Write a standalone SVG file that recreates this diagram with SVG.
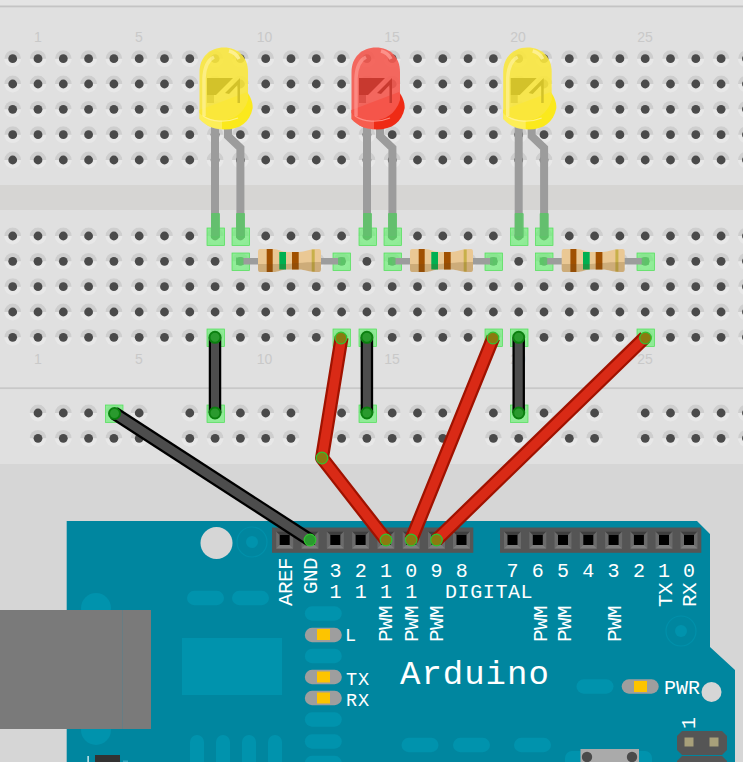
<svg xmlns="http://www.w3.org/2000/svg" xmlns:xlink="http://www.w3.org/1999/xlink" width="743" height="762" viewBox="0 0 743 762">
<style>
.num{font:14px "Liberation Sans",Arial,sans-serif;fill:#c9c9c9;text-anchor:middle}
.t{font-family:"Liberation Mono","DejaVu Sans Mono",monospace;fill:#fff}
.m{font-size:20px}
.s{font-size:18.5px;letter-spacing:.8px}
.v{font-size:21px;letter-spacing:-.6px}
.blob{fill:#0093ad}
.pad{fill:#6fee78;fill-opacity:.72;stroke:#4be055;stroke-width:.7}
.stub{fill:#5cc468;fill-opacity:.88}
.lg{fill:none;stroke:#9c9c9c;stroke-width:8}
.bk{fill:none;stroke:#000;stroke-width:12.5}
.bki{fill:none;stroke:#4d4d4d;stroke-width:8}
.rd{fill:none;stroke:#a01200;stroke-width:14}
.rdi{fill:none;stroke:#d92a16;stroke-width:9.5}
.eg{fill:#2a9a2e;stroke:#0b800f;stroke-width:2}
.er{fill:#8a7a10;stroke:#2fc42f;stroke-width:1.2}
.y{--f:#fbe91c;--b:#f9e73e;--d:#d3c22a;--h:#fff3a0}
.r{--f:#ef2b15;--b:#f55a50;--d:#c8392f;--h:#ff9c95}
</style>
<defs>
<g id="h"><circle r="8.4" fill="#e8e8e8"/><path d="M-8.4,0A8.4,8.4 0 0 1 8.4,0Z" fill="#cecece"/><circle r="4.4" fill="#4a4a4a"/></g>
<g id="row">
<use xlink:href="#h" x="12.7"/><use xlink:href="#h" x="38"/><use xlink:href="#h" x="63.3"/><use xlink:href="#h" x="88.6"/><use xlink:href="#h" x="113.9"/><use xlink:href="#h" x="139.2"/><use xlink:href="#h" x="164.5"/><use xlink:href="#h" x="189.8"/><use xlink:href="#h" x="215.1"/><use xlink:href="#h" x="240.4"/><use xlink:href="#h" x="265.7"/><use xlink:href="#h" x="291"/><use xlink:href="#h" x="316.3"/><use xlink:href="#h" x="341.6"/><use xlink:href="#h" x="366.9"/><use xlink:href="#h" x="392.2"/><use xlink:href="#h" x="417.5"/><use xlink:href="#h" x="442.8"/><use xlink:href="#h" x="468.1"/><use xlink:href="#h" x="493.4"/><use xlink:href="#h" x="518.7"/><use xlink:href="#h" x="544"/><use xlink:href="#h" x="569.3"/><use xlink:href="#h" x="594.6"/><use xlink:href="#h" x="619.9"/><use xlink:href="#h" x="645.2"/><use xlink:href="#h" x="670.5"/><use xlink:href="#h" x="695.8"/><use xlink:href="#h" x="721.1"/><use xlink:href="#h" x="746.4"/>
</g>
<g id="rail">
<use xlink:href="#h" x="38"/><use xlink:href="#h" x="63.3"/><use xlink:href="#h" x="88.6"/><use xlink:href="#h" x="113.9"/><use xlink:href="#h" x="139.2"/><use xlink:href="#h" x="189.8"/><use xlink:href="#h" x="215.1"/><use xlink:href="#h" x="240.4"/><use xlink:href="#h" x="265.7"/><use xlink:href="#h" x="291"/><use xlink:href="#h" x="341.6"/><use xlink:href="#h" x="366.9"/><use xlink:href="#h" x="392.2"/><use xlink:href="#h" x="417.5"/><use xlink:href="#h" x="442.8"/><use xlink:href="#h" x="493.4"/><use xlink:href="#h" x="518.7"/><use xlink:href="#h" x="544"/><use xlink:href="#h" x="569.3"/><use xlink:href="#h" x="594.6"/><use xlink:href="#h" x="645.2"/><use xlink:href="#h" x="670.5"/><use xlink:href="#h" x="695.8"/><use xlink:href="#h" x="721.1"/><use xlink:href="#h" x="746.4"/>
</g>
<g id="pin">
<rect x="-8.5" y="-8.5" width="17" height="17" fill="#6b6b6b"/>
<path d="M-8.5,-8.5H8.5L5,-5H-5Z" fill="#3f3f3f"/>
<path d="M-8.5,8.5H8.5L5,5H-5Z" fill="#7d7d7d"/>
<rect x="-5" y="-5" width="10" height="10" fill="#000"/>
</g>
<g id="pil"><rect x="-18.5" y="-7.2" width="37" height="14.4" rx="7.2"/></g>
<g id="led">
<path d="M199.5,110V119C206,126 214,129.500 225,129.500C240,129.500 250,122 252.700,108C252.700,101 250,96 247,92Z" style="fill:var(--f)"/>
<path d="M199.5,113V72C199.5,57 210,47.500 224,47.500C238,47.500 248,57 248,72V100C244,114 232,120.500 222,120.500C212,120.500 204,118 199.5,113Z" style="fill:var(--b)" fill-opacity=".9"/>
<path d="M199.5,113C204,118 212,120.500 222,120.500L222,129.500C212,129 205,125 199.5,119Z" style="fill:var(--h)" fill-opacity=".45"/>
<path d="M207,78H233L216,95H207Z" style="fill:var(--d)"/>
<path d="M207,95H214V103H207Z" style="fill:var(--d)" fill-opacity=".5"/>
<path d="M225,93L240,78V103H237.5V85L229,94Z" style="fill:var(--d)"/>
<path d="M214,57C208,60 204.500,68 204,78V116" fill="none" style="stroke:var(--h)" stroke-opacity=".65" stroke-width="3.500"/>
<path d="M229,51C233,52 237,55 239,59" fill="none" style="stroke:var(--h)" stroke-opacity=".8" stroke-width="3.500"/>
<path d="M203,116C212,122 226,123 238,118" fill="none" style="stroke:var(--h)" stroke-opacity=".8" stroke-width="1.300"/>
</g>
<g id="res">
<rect x="240" y="258" width="101" height="6.500" fill="#9c9c9c"/>
<path d="M260,249H273C279,249 281,252 287,252H299C305,252 309,249 316,249H319Q321,249 321,252V269Q321,272 319,272H316C309,272 305,269.500 299,269.500H287C281,269.500 279,272 273,272H260Q258,272 258,269V252Q258,249 260,249Z" fill="#eac894"/>
<rect x="266.700" y="249" width="6" height="23" fill="#a05000"/>
<rect x="279.300" y="252" width="6.700" height="17.500" fill="#00b050"/>
<rect x="292" y="252" width="6.700" height="17.500" fill="#a05000"/>
<rect x="311.700" y="249.500" width="3" height="22" fill="#c8b04a"/>
<path d="M258,264H287C295,263 309,262 321,262V269Q321,272 319,272H316C309,272 305,269.500 299,269.500H287C281,269.500 279,272 273,272H260Q258,272 258,269Z" fill="#6b4a1a" fill-opacity=".22"/>
</g>
</defs>

<g id="background">
<rect width="743" height="762" fill="#d6d6d6"/>
</g>

<g id="breadboard">
<rect width="743" height="464" fill="#e0e0e0"/>
<rect width="743" height="6" fill="#e4e4e4"/>
<rect y="5.500" width="743" height="1.800" fill="#c4c4c4"/>
<rect y="185" width="743" height="25" fill="#d6d5d3"/>
<rect y="387.300" width="743" height="1.800" fill="#c8c8c8"/>
<g>
<use xlink:href="#row" y="58.700"/><use xlink:href="#row" y="84"/><use xlink:href="#row" y="109.300"/><use xlink:href="#row" y="134.700"/><use xlink:href="#row" y="160"/>
<use xlink:href="#row" y="236"/><use xlink:href="#row" y="261.300"/><use xlink:href="#row" y="286.700"/><use xlink:href="#row" y="312"/><use xlink:href="#row" y="337.300"/>
<use xlink:href="#rail" y="413"/><use xlink:href="#rail" y="438.300"/>
</g>
<g>
<text class="num" x="38" y="42">1</text><text class="num" x="139" y="42">5</text><text class="num" x="264.500" y="42">10</text><text class="num" x="392" y="42">15</text><text class="num" x="518" y="42">20</text><text class="num" x="645" y="42">25</text>
<text class="num" x="38" y="364">1</text><text class="num" x="139" y="364">5</text><text class="num" x="264.500" y="364">10</text><text class="num" x="392" y="364">15</text><text class="num" x="518" y="364">20</text><text class="num" x="645" y="364">25</text>
</g>
</g>

<g id="arduino">
<path d="M66.700,521H697L710,534V647L735,670V762H66.700Z" fill="#00869f"/>
<circle cx="216.500" cy="543" r="16" fill="#d6d6d6"/>
<circle cx="252" cy="542" r="15" fill="none" stroke="#0090aa" stroke-width="1.200"/><circle cx="252" cy="542" r="6" fill="#0093ad"/>
<circle cx="681" cy="631" r="15" fill="none" stroke="#0090aa" stroke-width="1.200"/><circle cx="681" cy="631" r="6" fill="#0093ad"/>
<circle cx="711.500" cy="692" r="10" fill="#d6d6d6"/>
<circle cx="96" cy="608" r="15" class="blob"/><circle cx="96" cy="730" r="15" class="blob"/>
<rect x="182" y="638" width="100" height="57" class="blob"/>
<g class="blob">
<use xlink:href="#pil" x="205.500" y="598"/><use xlink:href="#pil" x="250.500" y="598"/>
<use xlink:href="#pil" x="323.300" y="613.500"/><use xlink:href="#pil" x="323.300" y="656"/><use xlink:href="#pil" x="323.300" y="719.500"/><use xlink:href="#pil" x="323.300" y="741.500"/><use xlink:href="#pil" x="323.300" y="763"/>
<use xlink:href="#pil" x="420" y="745"/><use xlink:href="#pil" x="471.500" y="745"/><use xlink:href="#pil" x="532.500" y="745"/>
<use xlink:href="#pil" x="595" y="686.500"/>
<rect x="190" y="735" width="14" height="40" rx="7"/><rect x="216" y="735" width="14" height="40" rx="7"/><rect x="242" y="735" width="14" height="40" rx="7"/><rect x="268" y="735" width="14" height="40" rx="7"/>
<rect x="565" y="751" width="87" height="20" rx="7"/>
</g>
<g id="usb"><rect y="610" width="151" height="119" fill="#7a7a7a"/><rect x="122" y="610" width=".7" height="119" fill="#5f7f88"/></g>
<g id="headers">
<rect x="272" y="527.500" width="201.300" height="25.300" fill="#555"/>
<rect x="500" y="527.500" width="201.300" height="25.300" fill="#555"/>
<use xlink:href="#pin" x="284.700" y="540"/><use xlink:href="#pin" x="310" y="540"/><use xlink:href="#pin" x="335.300" y="540"/><use xlink:href="#pin" x="360.600" y="540"/><use xlink:href="#pin" x="385.900" y="540"/><use xlink:href="#pin" x="411.200" y="540"/><use xlink:href="#pin" x="436.500" y="540"/><use xlink:href="#pin" x="461.500" y="540"/>
<use xlink:href="#pin" x="512.500" y="540"/><use xlink:href="#pin" x="537.800" y="540"/><use xlink:href="#pin" x="563" y="540"/><use xlink:href="#pin" x="588.300" y="540"/><use xlink:href="#pin" x="613.600" y="540"/><use xlink:href="#pin" x="638.900" y="540"/><use xlink:href="#pin" x="664" y="540"/><use xlink:href="#pin" x="689" y="540"/>
</g>
<g id="board-leds">
<g fill="#9e9e9e"><use xlink:href="#pil" x="323.300" y="635"/><use xlink:href="#pil" x="323.300" y="677"/><use xlink:href="#pil" x="323.300" y="698"/><use xlink:href="#pil" x="640.200" y="686.500"/></g>
<g fill="#fdc400"><rect x="317" y="629" width="13" height="11"/><rect x="317" y="671.500" width="13" height="11"/><rect x="317" y="692.500" width="13" height="11"/><rect x="634" y="681" width="13" height="11"/></g>
</g>
<g id="board-text" class="t">
<text class="v" transform="translate(292,606) rotate(-90)">AREF</text>
<text class="v" transform="translate(317,594) rotate(-90)">GND</text>
<g class="m" text-anchor="middle">
<text x="335.500" y="576.500">3</text><text x="360.800" y="576.500">2</text><text x="386" y="576.500">1</text><text x="411.200" y="576.500">0</text><text x="436.500" y="576.500">9</text><text x="461.700" y="576.500">8</text>
<text x="335.500" y="597.500">1</text><text x="360.800" y="597.500">1</text><text x="386" y="597.500">1</text><text x="411.200" y="597.500">1</text>
<text x="512.500" y="576.500">7</text><text x="537.800" y="576.500">6</text><text x="563" y="576.500">5</text><text x="588.300" y="576.500">4</text><text x="613.600" y="576.500">3</text><text x="638.900" y="576.500">2</text><text x="664" y="576.500">1</text><text x="689" y="576.500">0</text>
</g>
<text class="m" x="445" y="597.500" letter-spacing=".6">DIGITAL</text>
<text class="v" transform="translate(392,642) rotate(-90)">PWM</text>
<text class="v" transform="translate(417.500,642) rotate(-90)">PWM</text>
<text class="v" transform="translate(443,642) rotate(-90)">PWM</text>
<text class="v" transform="translate(547,642) rotate(-90)">PWM</text>
<text class="v" transform="translate(571,642) rotate(-90)">PWM</text>
<text class="v" transform="translate(620.500,642) rotate(-90)">PWM</text>
<text class="v" transform="translate(672,607) rotate(-90)">TX</text>
<text class="v" transform="translate(696,607) rotate(-90)">RX</text>
<text class="s" x="345" y="641">L</text>
<text class="s" x="346" y="684.500">TX</text>
<text class="s" x="346" y="705.500">RX</text>
<text class="m" x="664" y="694">PWR</text>
<text x="400" y="683.500" font-size="34" letter-spacing="1">Arduino</text>
<text font-size="20" transform="translate(695,729) rotate(-90)">1</text>
</g>
<g id="button"><rect x="580.500" y="749" width="58.500" height="13" fill="#aaa"/><circle cx="587" cy="757" r="5.200" fill="#4a4a4a"/><circle cx="632" cy="757" r="5.200" fill="#4a4a4a"/></g>
<g id="jumper">
<path d="M682,731H722L727,736V750L722,755H682L677,750V736Z" fill="#555"/>
<path d="M682,756H722L727,761V770H677V761Z" fill="#555"/>
<rect x="684.500" y="737.500" width="9" height="9" fill="#a8a07a"/><rect x="709.500" y="737.500" width="9" height="9" fill="#a8a07a"/>
</g>
<g id="chip"><rect x="95" y="755" width="25" height="7" fill="#333"/><rect x="87.500" y="756" width="1.200" height="6" fill="#fff"/><rect x="123" y="760.500" width="5" height="1.500" fill="#33a5bd"/></g>
</g>

<g id="pads">
<rect class="pad" x="207" y="228" width="17.500" height="17.500"/><rect class="pad" x="232" y="228" width="17.500" height="17.500"/>
<rect class="pad" x="359" y="228" width="17.500" height="17.500"/><rect class="pad" x="384" y="228" width="17.500" height="17.500"/>
<rect class="pad" x="510.500" y="228" width="17.500" height="17.500"/><rect class="pad" x="535.500" y="228" width="17.500" height="17.500"/>
<rect class="pad" x="232" y="253" width="17.500" height="17.500"/><rect class="pad" x="333" y="253" width="17.500" height="17.500"/>
<rect class="pad" x="384" y="253" width="17.500" height="17.500"/><rect class="pad" x="485" y="253" width="17.500" height="17.500"/>
<rect class="pad" x="535.500" y="253" width="17.500" height="17.500"/><rect class="pad" x="637" y="253" width="17.500" height="17.500"/>
<rect class="pad" x="207" y="329" width="17.500" height="17.500"/><rect class="pad" x="333" y="329" width="17.500" height="17.500"/><rect class="pad" x="359" y="329" width="17.500" height="17.500"/><rect class="pad" x="485" y="329" width="17.500" height="17.500"/><rect class="pad" x="510.500" y="329" width="17.500" height="17.500"/><rect class="pad" x="637" y="329" width="17.500" height="17.500"/>
<rect class="pad" x="105.500" y="405" width="17.500" height="17.500"/><rect class="pad" x="207" y="405" width="17.500" height="17.500"/><rect class="pad" x="359" y="405" width="17.500" height="17.500"/><rect class="pad" x="510.500" y="405" width="17.500" height="17.500"/>
</g>

<g id="led1" class="y">
<path class="lg" d="M215,120V236M228,120V136L240.400,148V236"/>
<rect class="stub" x="211" y="213" width="9" height="25" rx="1"/><rect class="stub" x="236" y="213" width="9" height="25" rx="1"/>
<use xlink:href="#led"/>
</g>
<g id="led2" class="r">
<g transform="translate(152,0)"><path class="lg" d="M215,120V236M228,120V136L240.400,148V236"/>
<rect class="stub" x="211" y="213" width="9" height="25" rx="1"/><rect class="stub" x="236" y="213" width="9" height="25" rx="1"/>
<use xlink:href="#led"/></g>
</g>
<g id="led3" class="y">
<g transform="translate(303.700,0)"><path class="lg" d="M215,120V236M228,120V136L240.400,148V236"/>
<rect class="stub" x="211" y="213" width="9" height="25" rx="1"/><rect class="stub" x="236" y="213" width="9" height="25" rx="1"/>
<use xlink:href="#led"/></g>
</g>

<g id="res1"><use xlink:href="#res"/><rect class="stub" x="236" y="257.500" width="7.500" height="7.500"/><rect class="stub" x="338" y="257.500" width="7" height="7.500"/></g>
<g id="res2"><use xlink:href="#res" x="152"/><rect class="stub" x="388" y="257.500" width="7.500" height="7.500"/><rect class="stub" x="490" y="257.500" width="7" height="7.500"/></g>
<g id="res3"><use xlink:href="#res" x="303.700"/><rect class="stub" x="539.700" y="257.500" width="7.500" height="7.500"/><rect class="stub" x="641.700" y="257.500" width="7" height="7.500"/></g>

<g id="connectors">
<g id="wire-black">
<path class="bk" d="M215,337.300V413M366.900,337.300V413M518.700,337.300V413"/>
<path class="bki" d="M215,337.300V413M366.900,337.300V413M518.700,337.300V413"/>
<path class="bk" style="stroke-width:13.500" d="M114,413L310,540"/>
<path class="bki" style="stroke-width:9" d="M114,413L310,540"/>
</g>
<g id="wire-red">
<path class="rd" stroke-linejoin="round" d="M341.600,337.300L322,458L386,540M493.400,337.300L411.200,540M645.200,337.300L436.500,540"/>
<path class="rdi" stroke-linejoin="round" d="M341.600,337.300L322,458L386,540M493.400,337.300L411.200,540M645.200,337.300L436.500,540"/>
</g>
<g id="ends-black">
<circle class="eg" cx="215" cy="337.300" r="5.500"/><circle class="eg" cx="215" cy="413" r="5.500"/>
<circle class="eg" cx="366.900" cy="337.300" r="5.500"/><circle class="eg" cx="366.900" cy="413" r="5.500"/>
<circle class="eg" cx="518.700" cy="337.300" r="5.500"/><circle class="eg" cx="518.700" cy="413" r="5.500"/>
<circle class="eg" cx="114.500" cy="413.500" r="5.500"/><circle cx="310" cy="540" r="5.800" fill="#2a9a2e" stroke="#2fc42f" stroke-width="1.200"/>
</g>
<g id="ends-red">
<circle class="er" cx="341" cy="338" r="5.800"/><circle class="er" cx="322" cy="458" r="5.800"/><circle class="er" cx="386" cy="540" r="5.800"/>
<circle class="er" cx="493" cy="338" r="5.800"/><circle class="er" cx="411.200" cy="540" r="5.800"/>
<circle class="er" cx="645.500" cy="338" r="5.800"/><circle class="er" cx="436.500" cy="540" r="5.800"/>
</g>
</g>
</svg>
